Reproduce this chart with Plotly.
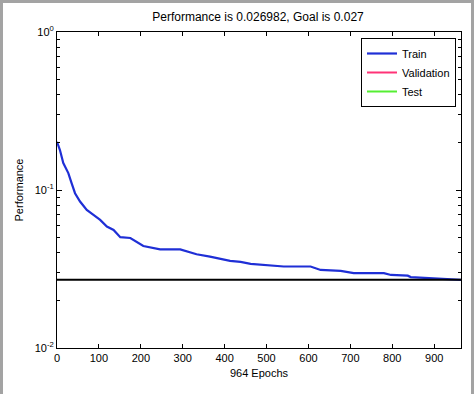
import plotly.graph_objects as go

# Data
train_epochs = [0, 7, 15, 27, 35, 43, 55, 71, 87, 103, 119, 135, 151, 175, 206, 246, 294,
                333, 365, 413, 438, 462, 541, 605, 629, 677, 708, 780, 797, 837, 844, 885, 964]
train_perf = [0.202, 0.179, 0.148, 0.128, 0.110, 0.0954, 0.0845, 0.0748, 0.0696, 0.0647,
              0.0587, 0.0559, 0.0503, 0.0497, 0.0442, 0.0421, 0.0421, 0.0392, 0.0379, 0.0356,
              0.0351, 0.0341, 0.0328, 0.0328, 0.0312, 0.0308, 0.0298, 0.0298, 0.0290, 0.0287,
              0.0281, 0.0277, 0.026982]
goal = 0.027
total_epochs = 964
x_ticks = [0, 100, 200, 300, 400, 500, 600, 700, 800, 900]
y_ticks = [0.01, 0.1, 1]
y_ticktext = ["10<sup>-2</sup>", "10<sup>-1</sup>", "10<sup>0</sup>"]
minor_vals = [k * 0.01 for k in range(2, 10)] + [k * 0.1 for k in range(2, 10)]

font = "Liberation Sans, Arial, sans-serif"

fig = go.Figure()
fig.add_trace(go.Scatter(x=train_epochs, y=train_perf, mode="lines", name="Train",
                         line=dict(color="#1f2fd6", width=2.2)))
fig.add_trace(go.Scatter(x=[None], y=[None], mode="lines", name="Validation",
                         line=dict(color="#ff3377", width=2)))
fig.add_trace(go.Scatter(x=[None], y=[None], mode="lines", name="Test",
                         line=dict(color="#55ee33", width=2)))
fig.add_trace(go.Scatter(x=[0, total_epochs], y=[goal, goal], mode="lines", showlegend=False,
                         line=dict(color="black", width=2)))

L, R, T, B = 57, 13, 32, 46
W, H = 474, 394
pw, ph = W - L - R, H - T - B

def px(xp):
    return (xp - L) / pw

def py(yp):
    return (H - B - yp) / ph

gray = "#a3a3a3"
shapes = [
    dict(type="rect", xref="paper", yref="paper", x0=px(0), x1=px(3), y0=py(H), y1=py(0),
         fillcolor=gray, line=dict(width=0), layer="below"),
    dict(type="rect", xref="paper", yref="paper", x0=px(0), x1=px(W), y0=py(3), y1=py(0),
         fillcolor=gray, line=dict(width=0), layer="below"),
    dict(type="rect", xref="paper", yref="paper", x0=px(471), x1=px(W), y0=py(H), y1=py(0),
         fillcolor=gray, line=dict(width=0), layer="below"),
]

fig.update_layout(
    width=W, height=H,
    margin=dict(l=L, r=R, t=T, b=B, autoexpand=False),
    paper_bgcolor="white", plot_bgcolor="white",
    font=dict(family=font, size=11, color="black"),
    title=dict(text="Performance is 0.026982, Goal is 0.027", x=px(258), xref="paper",
               xanchor="center", y=1 - 17 / H, yref="container", yanchor="middle",
               font=dict(size=12, family=font, color="black")),
    shapes=shapes,
    showlegend=True,
    legend=dict(x=1 - 5 / pw, y=1 - 6 / ph, xanchor="right", yanchor="top",
                bordercolor="black", borderwidth=1, bgcolor="white",
                font=dict(size=11, family=font), tracegroupgap=0,
                itemwidth=30),
    xaxis=dict(range=[0, total_epochs], tickvals=x_ticks, ticks="inside", ticklen=4,
               tickcolor="black", showline=True, linecolor="black", linewidth=1,
               mirror="allticks", showgrid=False, zeroline=False, automargin=False,
               title=dict(text="964 Epochs", standoff=6, font=dict(size=11))),
    yaxis=dict(type="log", range=[-2, 0], tickvals=y_ticks, ticktext=y_ticktext,
               ticks="inside", ticklen=5, tickcolor="black", showline=True,
               linecolor="black", linewidth=1, mirror="allticks", showgrid=False,
               zeroline=False, automargin=False,
               minor=dict(tickvals=minor_vals, ticks="inside", ticklen=3, tickcolor="black",
                          showgrid=False),
               title=dict(text="Performance", standoff=8, font=dict(size=11))),
)

fig.write_html("out.html", config={"displayModeBar": False},
               post_script="document.body.style.margin='0px';")
